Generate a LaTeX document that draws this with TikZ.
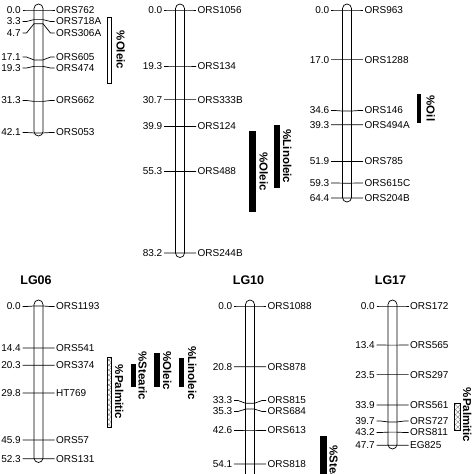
\documentclass[tikz,border=0pt]{standalone}
\usepackage{fontspec}
\setmainfont{Liberation Sans}
\usetikzlibrary{patterns.meta}

\tikzset{
  chrom/.style={draw,line width=0.7pt,rounded corners=4.5pt},
  tick/.style={line width=0.7pt},
  cmval/.style={anchor=east,inner sep=0pt,font=\fontsize{10}{12}\selectfont},
  mkname/.style={anchor=west,inner sep=0pt,font=\fontsize{10}{12}\selectfont},
  qtlfill/.style={fill=black},
  qtlopen/.style={draw,line width=0.7pt,fill=white},
  qtlhatch/.style={pattern={Lines[angle=45,distance=3.5pt,line width=0.4pt]},pattern color=gray,
    postaction={pattern={Lines[angle=-45,distance=3.5pt,line width=0.4pt]},pattern color=gray},
    postaction={draw,line width=0.7pt}},
  qtltext/.style={rotate=-90,anchor=base,inner sep=0pt,font=\fontsize{11.5}{13}\selectfont\bfseries},
  lgtitle/.style={inner sep=0pt,font=\fontsize{12.5}{14}\selectfont\bfseries}
}

% #1 prefix, #2 centre x, #3 y of 0 cM, #4 y of lower end, #5 cM/label y/marker
\newcommand{\linkmap}[5]{%
  \draw[chrom] (#2-4.5,#3-6) rectangle (#2+4.5,#4);
  \foreach \cm/\ly/\mk [count=\i] in {#5}{
    \pgfmathsetmacro\yy{#3+2.92*\cm}
    \node[cmval] (#1n\i) at (#2-17.5,\ly) {\cm};
    \node[mkname] (#1m\i) at (#2+17.5,\ly) {\mk};
    \draw[tick] ([xshift=1.5pt]#1n\i.east) -- ++(4,0) -- (#2-4.5,\yy) -- (#2+4.5,\yy)
      -- ([xshift=-5.5pt]#1m\i.west) -- ([xshift=-1.5pt]#1m\i.west);
  }%
}

\begin{document}
\begin{tikzpicture}[x=1pt,y=-1pt]
\clip (0,0) rectangle (474,474);

\linkmap{a}{38.5}{10}{136}{0.0/10/ORS762, 3.3/21.5/ORS718A, 4.7/33/ORS306A,
  17.1/57/ORS605, 19.3/68/ORS474, 31.3/100.5/ORS662, 42.1/132.5/ORS053}
\linkmap{b}{180}{10}{257.5}{0.0/10/ORS1056, 19.3/66.4/ORS134, 30.7/99.6/ORS333B,
  39.9/126.5/ORS124, 55.3/171.5/ORS488, 83.2/253/ORS244B}
\linkmap{c}{347}{10}{202}{0.0/10/ORS963, 17.0/59.6/ORS1288, 34.6/110.5/ORS146,
  39.3/124.8/ORS494A, 51.9/161.5/ORS785, 59.3/183/ORS615C, 64.4/198/ORS204B}

\node[lgtitle] (lg06) at (36,280) {LG06};
\node[lgtitle] (lg10) at (248.5,280) {LG10};
\node[lgtitle] (lg17) at (390.5,280) {LG17};

\linkmap{d}{38.5}{306}{462.5}{0.0/306.5/ORS1193, 14.4/348/ORS541, 20.3/365.3/ORS374,
  29.8/393/HT769, 45.9/440/ORS57, 52.3/458.7/ORS131}
\linkmap{e}{250}{306}{490}{0.0/306/ORS1088, 20.8/366.7/ORS878, 33.3/400.5/ORS815,
  35.3/411.5/ORS684, 42.6/430.4/ORS613, 54.1/464/ORS818}
\linkmap{f}{392.5}{306}{449}{0.0/306/ORS172, 13.4/345/ORS565, 23.5/374.6/ORS297,
  33.9/405/ORS561, 39.7/421/ORS727, 43.2/432.5/ORS811, 47.7/445.3/EG825}

\draw[qtlopen] (107,17) rectangle (111,83);
\node[qtltext] (aoleic) at (116.7,50) {\%Oleic};

\fill[qtlfill] (249,131) rectangle (256,212);
\node[qtltext] (boleic) at (259.5,171.5) {\%Oleic};
\fill[qtlfill] (274,125) rectangle (280,188);
\node[qtltext] (blinoleic) at (283,156.5) {\%Linoleic};

\fill[qtlfill] (417,94) rectangle (421,123);
\node[qtltext] (coil) at (426.5,108.5) {\%Oil};

\path[qtlhatch] (107,357) rectangle (111,427);
\node[qtltext] (dpalmitic) at (115,392) {\%Palmitic};
\fill[qtlfill] (131,364) rectangle (136,387);
\node[qtltext] (dstearic) at (138.5,376) {\%Stearic};
\fill[qtlfill] (154,353) rectangle (160,387);
\node[qtltext] (doleic) at (163,370.5) {\%Oleic};
\fill[qtlfill] (179,358) rectangle (184,387);
\node[qtltext] (dlinoleic) at (188,373) {\%Linoleic};

\fill[qtlfill] (320,436) rectangle (327,505);
\node[qtltext] (estearic) at (329.5,470) {\%Stearic};

\path[qtlhatch] (454,403) rectangle (460,430);
\node[qtltext] (fpalmitic) at (463,415) {\%Palmitic};
\end{tikzpicture}
\end{document}
